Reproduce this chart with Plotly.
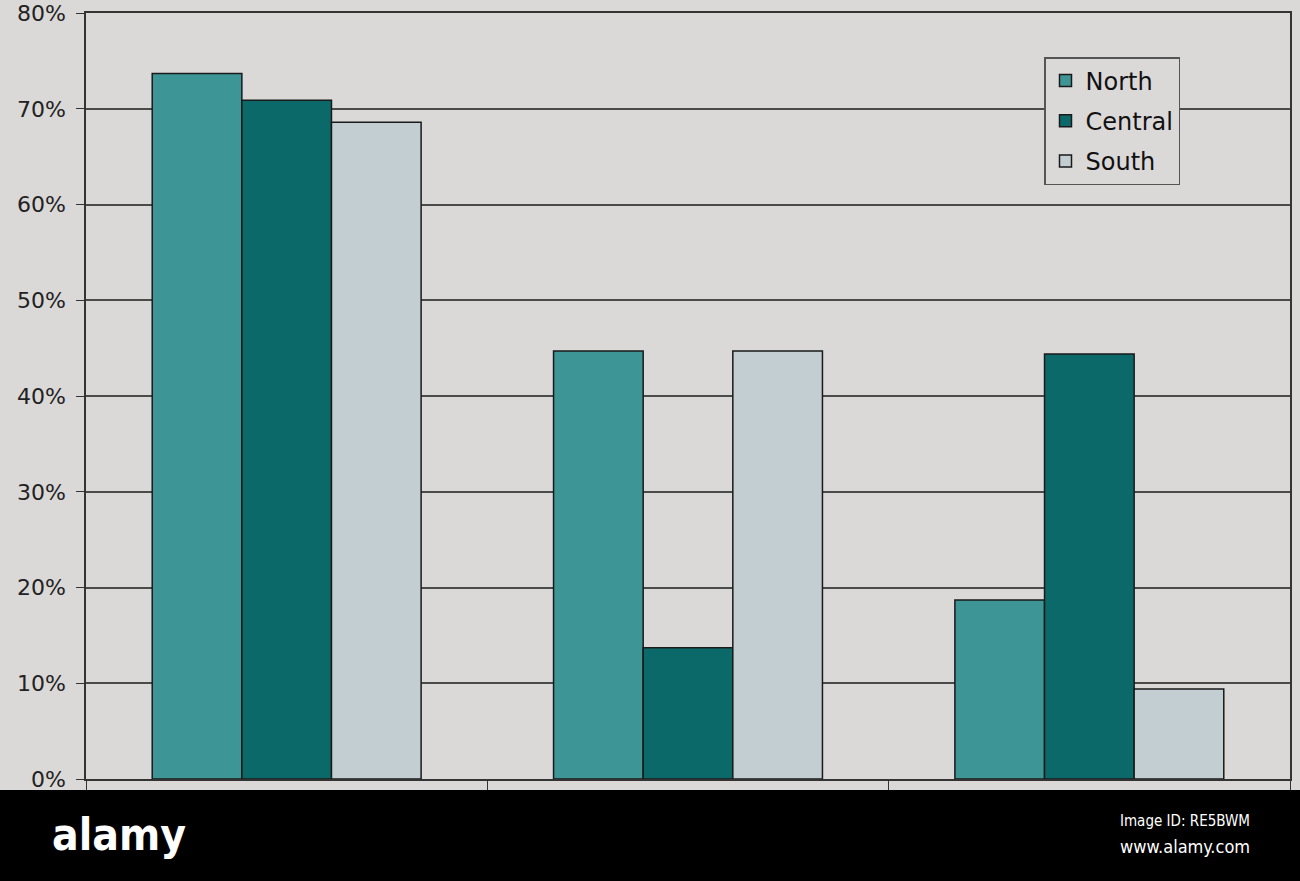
import plotly.graph_objects as go

categories = ["Group A", "Group B", "Group C"]
series_names = ["North", "Central", "South"]
north = [73.7, 44.7, 18.7]
central = [70.9, 13.7, 44.4]
south = [68.6, 44.7, 9.4]
series_values = [north, central, south]
series_colors = ["#3d9695", "#0b6a69", "#c2ced1"]
y_ticks = [0, 10, 20, 30, 40, 50, 60, 70, 80]
y_tick_labels = ["0%", "10%", "20%", "30%", "40%", "50%", "60%", "70%", "80%"]

fig = go.Figure()
for name, vals, col in zip(series_names, series_values, series_colors):
    fig.add_trace(go.Bar(
        x=categories, y=vals, name=name, legendgroup=name,
        marker=dict(color=col, line=dict(color="#1a1a1a", width=1.5)),
    ))

bg = "#dbd8d8"
top = 13
ph = 779 - top
fig.update_layout(
    width=1300, height=881,
    margin=dict(l=86, r=10, t=top, b=102, autoexpand=False),
    paper_bgcolor=bg, plot_bgcolor=bg,
    barmode="group", bargap=0.33, bargroupgap=0,
    font=dict(family="DejaVu Sans, Liberation Sans, sans-serif", size=22, color="#222"),
    legend=dict(
        x=(1044-86)/1204, y=(779-57)/ph, xanchor="left", yanchor="top",
        bgcolor=bg, bordercolor="#555", borderwidth=1.5,
        font=dict(size=24, color="#111", family="DejaVu Sans, sans-serif"),
        itemwidth=30, tracegroupgap=6,
    ),
    showlegend=True,
)
fig.update_xaxes(
    showticklabels=False, ticks="outside", ticklen=10, tickcolor="#333",
    tickson="boundaries", showline=True, linecolor="#333", linewidth=1.5,
    mirror=True, showgrid=False, automargin=False,
)
fig.update_yaxes(
    range=[0, 80.02], tickvals=y_ticks, ticktext=y_tick_labels,
    ticks="outside", ticklen=8, tickcolor="#333",
    showgrid=True, gridcolor="#4a4a4a", gridwidth=1.5,
    showline=True, linecolor="#333", linewidth=1.5, mirror=True,
    zeroline=False, ticklabelstandoff=6, ticklabeloverflow="allow",
    automargin=False,
)

# black footer band of the source image
fig.add_shape(type="rect", xref="paper", yref="paper",
              x0=-86/1204, x1=1+10/1204, y0=-102/ph, y1=-11/ph, fillcolor="black",
              line=dict(width=0), layer="above")
fig.add_annotation(xref="paper", yref="paper", x=-36/1204, y=-56/ph,
                   text="<b>alamy</b>", showarrow=False, xanchor="left",
                   yanchor="middle", font=dict(size=44, color="white",
                   family="DejaVu Sans Condensed, Liberation Sans Narrow, sans-serif"))
fig.add_annotation(xref="paper", yref="paper", x=(1252-86)/1204, y=-42/ph,
                   text="Image ID: RE5BWM", showarrow=False, xanchor="right",
                   yanchor="middle", font=dict(size=15, color="white",
                   family="DejaVu Sans Condensed, sans-serif"))
fig.add_annotation(xref="paper", yref="paper", x=(1252-86)/1204, y=-67/ph,
                   text="www.alamy.com", showarrow=False, xanchor="right",
                   yanchor="middle", font=dict(size=18, color="white",
                   family="DejaVu Sans Condensed, sans-serif"))

fig.write_html("out.html")
